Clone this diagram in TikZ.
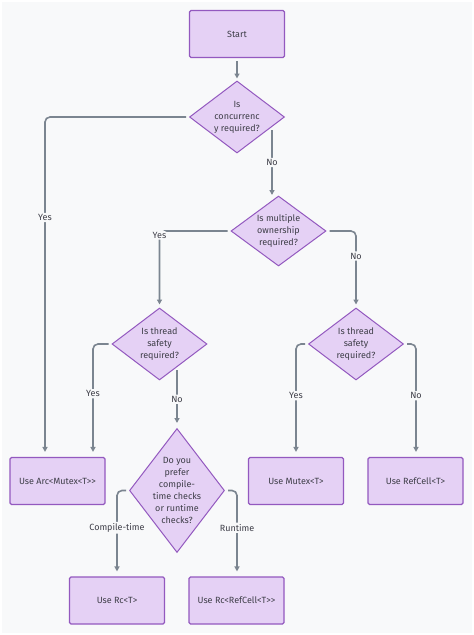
\documentclass[tikz,border=0pt]{standalone}
\usepackage{fontspec}
\setmainfont{Fira Sans}
\usetikzlibrary{shapes.geometric,arrows.meta,calc}
\definecolor{bg}{HTML}{F8F9FA}
\definecolor{boxfill}{HTML}{E5D1F5}
\definecolor{boxdraw}{HTML}{9359BF}
\definecolor{linec}{HTML}{7B8590}
\definecolor{txt}{HTML}{3E3E48}
\tikzset{
  txtstyle/.style={font=\fontsize{9}{12}\selectfont, text=txt, align=center},
  boxnode/.style={rectangle, draw=boxdraw, fill=boxfill, line width=1.1pt, rounded corners=1.5pt, minimum width=95pt, minimum height=47pt, inner sep=0pt, txtstyle},
  dianode/.style={diamond, draw=boxdraw, fill=boxfill, line width=1pt, minimum width=95pt, inner sep=0pt},
  dtext/.style={txtstyle, inner sep=0pt},
  conn/.style={draw=linec, line width=1.6pt, rounded corners=5pt, -{Triangle[length=5pt,width=5pt]}},
  elabel/.style={txtstyle, fill=bg, inner sep=1.5pt}
}
\begin{document}
\begin{tikzpicture}[x=1pt,y=-1pt]
\fill[white] (0,0) rectangle (474,635);
\fill[bg] (2,2) rectangle (472,633);
\useasboundingbox (0,0) rectangle (474,635);

\node[boxnode] (start) at (237,34) {Start};
\node[dianode, minimum height=72pt, label={[dtext]center:{Is\\concurrenc\\y required?}}] (d1) at (237,117) {};
\node[dianode, minimum height=70pt, label={[dtext]center:{Is multiple\\ownership\\required?}}] (d2) at (278.5,231) {};
\node[dianode, minimum height=72pt, label={[dtext]center:{Is thread\\safety\\required?}}] (d3) at (159.5,344) {};
\node[dianode, minimum height=72pt, label={[dtext]center:{Is thread\\safety\\required?}}] (d4) at (356,344) {};
\node[dianode, minimum height=124pt, label={[dtext]center:{Do you\\prefer\\compile-\\time checks\\or runtime\\checks?}}] (d5) at (177,490.5) {};

\node[boxnode] (arc) at (57.5,481) {Use Arc<Mutex<T>{}>};
\node[boxnode] (mutex) at (296,481) {Use Mutex<T>};
\node[boxnode] (refcell) at (415.5,481) {Use RefCell<T>};
\node[boxnode] (rc) at (117,600.5) {Use Rc<T>};
\node[boxnode] (rcref) at (236.5,600.5) {Use Rc<RefCell<T>{}>};

% edges
\draw[conn, shorten <=3pt, shorten >=2pt] (start) -- (d1);
\draw[conn] ($(d1.west)+(-3,0)$) -| node[elabel, pos=0.65] {Yes} ($(arc.north)+(-12.5,-5)$);
\draw[conn] ($(d1.center)+(35,13)$) -- node[elabel] {No} ($(d2.center)+(-6.5,-36)$);
\draw[conn] ($(d2.west)+(-3,0)$) -| node[elabel, pos=0.5, yshift=-4pt] {Yes} ($(d3.north)+(0,-3)$);
\draw[conn] ($(d2.east)+(3,0)$) -| node[elabel, pos=0.67] {No} ($(d4.north)+(0,-3)$);
\draw[conn] ($(d3.west)+(-3,0)$) -| node[elabel, pos=0.73] {Yes} ($(arc.north)+(35.5,-5)$);
\draw[conn] ($(d3.center)+(17.5,26)$) -- node[elabel, pos=0.55] {No} ($(d5.north)+(0,-5)$);
\draw[conn] ($(d4.west)+(-3,0)$) -| node[elabel, pos=0.74] {Yes} ($(mutex.north)+(0,-5)$);
\draw[conn] ($(d4.east)+(3,0)$) -| node[elabel, pos=0.74] {No} ($(refcell.north)+(0.5,-5)$);
\draw[conn] ($(d5.west)+(-3,0)$) -| node[elabel, pos=0.73] {Compile-time} ($(rc.north)+(0,-5)$);
\draw[conn] ($(d5.east)+(3,0)$) -| node[elabel, pos=0.73] {Runtime} ($(rcref.north)+(0.5,-5)$);
\end{tikzpicture}
\end{document}
